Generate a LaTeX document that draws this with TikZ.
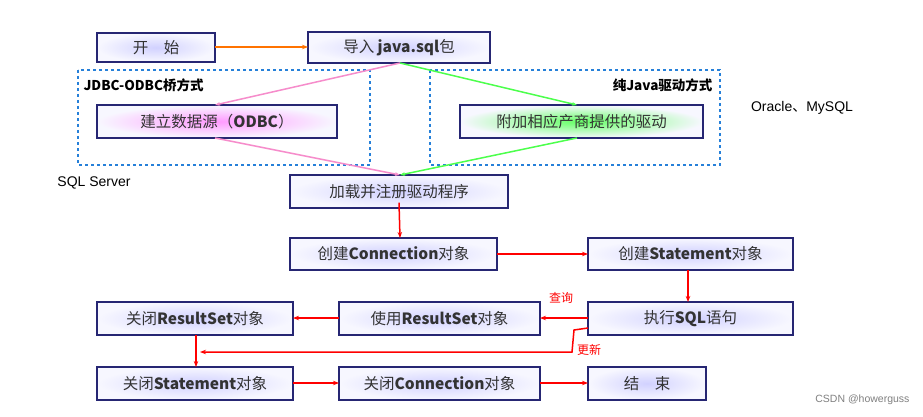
\documentclass[tikz,border=0pt]{standalone}
\usepackage{fontspec}
\setmainfont{Liberation Serif}
\newfontfamily\cjk{Noto Sans CJK SC}
\setsansfont{Liberation Sans}
\usetikzlibrary{arrows.meta,shadings}
\begin{document}
\begin{tikzpicture}[x=1pt,y=-1pt,
 box/.style={draw=gray!50!blue!60!black,line width=1.2pt,inner color=blue!18,outer color=blue!3,font=\cjk\fontsize{15.5}{16}\selectfont,text=black!80},
 pinkbox/.style={box,inner color=magenta!40},
 greenbox/.style={box,inner color=green!60},
 rline/.style={red,line width=1.5pt,-{Stealth[length=6pt]}},
 grp/.style={draw=blue!50!cyan!70!gray,dashed,line width=1.2pt}]
\useasboundingbox (0,0) rectangle (923,417);
\fill[white] (0,0) rectangle (923,417);
\path[box] (97,33) rectangle (215,62) node[midway] (start) {开\quad 始};
\path[box] (308,32) rectangle (490,63) node[midway] (imp) {导入 \textbf{java.sql}包};
\draw[grp] (78,70) rectangle (370,165);
\draw[grp] (430,70) rectangle (720,165);
\node[anchor=west,font=\cjk\bfseries\fontsize{13.5}{14}\selectfont] (l1) at (80,85) {JDBC-ODBC桥方式};
\node[anchor=east,font=\cjk\bfseries\fontsize{13.5}{14}\selectfont] (l2) at (716,85) {纯Java驱动方式};
\path[pinkbox] (97,105) rectangle (337,138) node[midway] (odbc) {建立数据源（\textbf{ODBC}）};
\path[greenbox] (460,105) rectangle (703,138) node[midway] (drv) {附加相应产商提供的驱动};
\path[box] (290,175) rectangle (508,208) node[midway] (load) {加载并注册驱动程序};
\path[box] (290,238) rectangle (497,270) node[midway] (conn) {创建\textbf{Connection}对象};
\path[box] (588,238) rectangle (793,270) node[midway] (stmt) {创建\textbf{Statement}对象};
\path[box] (97,302) rectangle (293,335) node[midway] (crs) {关闭\textbf{ResultSet}对象};
\path[box] (339,302) rectangle (540,335) node[midway] (urs) {使用\textbf{ResultSet}对象};
\path[box] (588,302) rectangle (793,335) node[midway] (exe) {执行\textbf{SQL}语句};
\path[box] (97,367) rectangle (293,400) node[midway] (cst) {关闭\textbf{Statement}对象};
\path[box] (339,367) rectangle (540,400) node[midway] (ccn) {关闭\textbf{Connection}对象};
\path[box] (588,367) rectangle (706,400) node[midway] (end) {结\quad 束};
\coordinate (impb) at (400,63);
\coordinate (loadt) at (400,175);
\draw[orange!90!red,line width=1.2pt,-{Stealth[length=6pt]}] (215,47) -- (308,47);
\draw[magenta!45,line width=1.5pt,-{Stealth[length=5pt]}] (impb) -- (215,105);
\draw[green!70,line width=1.5pt,-{Stealth[length=5pt]}] (impb) -- (577,105);
\draw[magenta!45,line width=1.5pt,-{Stealth[length=5pt]}] (215,138) -- (loadt);
\draw[green!70,line width=1.5pt,-{Stealth[length=5pt]}] (577,138) -- (loadt);
\draw[rline] (load.south) -- (400,238);
\draw[rline] (497,254) -- (588,254);
\draw[rline] (688,270) -- (688,302);
\draw[rline] (588,318) -- (540,318);
\draw[rline] (339,318) -- (293,318);
\draw[rline] (196,335) -- (196,367);
\draw[rline] (588,328) -- (574,330) -- (572,352) -- (200,352);
\draw[rline] (293,383) -- (339,383);
\draw[rline] (540,383) -- (588,383);
\node[red,font=\cjk\fontsize{12}{13}\selectfont] (q) at (561,298) {查询};
\node[red,font=\cjk\fontsize{12}{13}\selectfont] (u) at (589,350) {更新};
\node[font=\sffamily\fontsize{14}{15}\selectfont] (ora) at (802,108) {Oracle{\cjk 、}MySQL};
\node[font=\sffamily\fontsize{14}{15}\selectfont] (sql) at (94,183) {SQL Server};
\node[gray,font=\sffamily\fontsize{10.5}{11}\selectfont,anchor=east] (csdn) at (913,400) {CSDN @howerguss};
\end{tikzpicture}
\end{document}
